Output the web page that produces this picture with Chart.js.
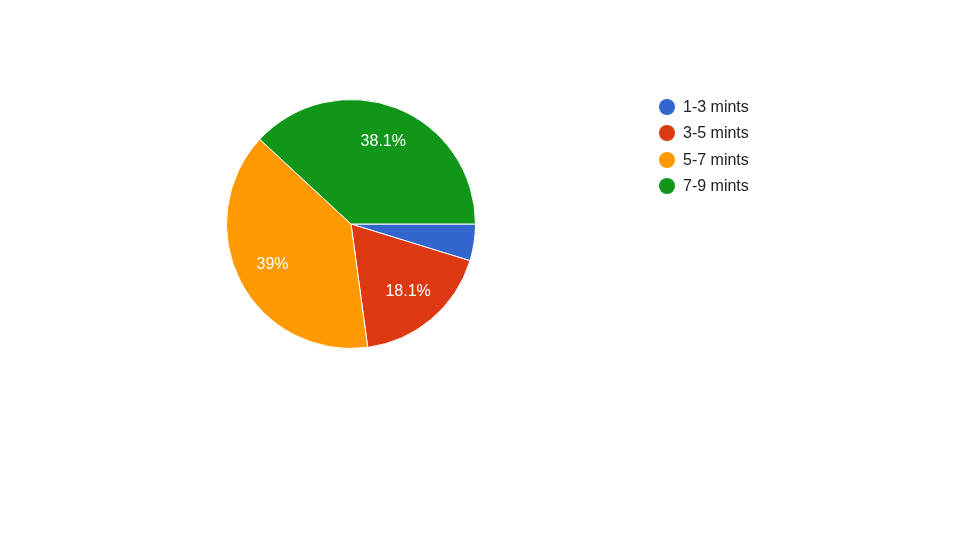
<!DOCTYPE html>
<html>
<head>
<meta charset="utf-8">
<script src="https://cdn.jsdelivr.net/npm/chart.js@4"></script>
<style>
  body { margin: 0; background: #fff; }
  #wrap { position: relative; width: 960px; height: 540px; }
  #legend { position: absolute; left: 659px; top: 94px; font-family: Arial, "Liberation Sans", sans-serif; font-size: 16px; color: #222; }
  #legend div { height: 26.3px; line-height: 20px; display: flex; align-items: center; }
  #legend span.dot { display: inline-block; width: 16px; height: 16px; border-radius: 50%; margin-right: 8px; }
</style>
</head>
<body>
<div id="wrap">
  <canvas id="pieChart" width="960" height="540"></canvas>
  <div id="legend"></div>
</div>
<script>
const categorias = ['1-3 mints', '3-5 mints', '5-7 mints', '7-9 mints'];
const respuestas = [5, 19, 41, 40];
const colores = ['#3366cc', '#dc3912', '#ff9900', '#109618'];

// leyenda a la derecha
const legend = document.getElementById('legend');
categorias.forEach((c, i) => {
  const row = document.createElement('div');
  row.innerHTML = '<span class="dot" style="background:' + colores[i] + '"></span>' + c;
  legend.appendChild(row);
});

// porcentajes dentro de cada porcion
const etiquetas = {
  id: 'etiquetas',
  afterDatasetsDraw(chart) {
    const ctx = chart.ctx;
    const data = chart.data.datasets[0].data;
    const total = data.reduce((a, b) => a + b, 0);
    chart.getDatasetMeta(0).data.forEach((arc, i) => {
      const pct = data[i] / total * 100;
      if (pct < 5) return;
      const mid = (arc.startAngle + arc.endAngle) / 2;
      const r = arc.outerRadius * 0.71;
      const x = arc.x + Math.cos(mid) * r;
      const y = arc.y + Math.sin(mid) * r;
      let txt = pct.toFixed(1);
      if (txt.endsWith('.0')) txt = txt.slice(0, -2);
      ctx.save();
      ctx.fillStyle = '#fff';
      ctx.font = '16px Arial, "Liberation Sans", sans-serif';
      ctx.textAlign = 'center';
      ctx.textBaseline = 'middle';
      ctx.fillText(txt + '%', x, y);
      ctx.restore();
    });
  }
};

const ctx = document.getElementById('pieChart').getContext('2d');
new Chart(ctx, {
  type: 'pie',
  data: {
    labels: categorias,
    datasets: [{
      data: respuestas,
      backgroundColor: colores,
      borderColor: '#ffffff',
      borderWidth: 1
    }]
  },
  options: {
    responsive: false,
    animation: false,
    rotation: 90,
    layout: { padding: { left: 226, right: 484, top: 99, bottom: 191 } },
    plugins: {
      legend: { display: false },
      tooltip: { enabled: false }
    }
  },
  plugins: [etiquetas]
});
</script>
</body>
</html>
